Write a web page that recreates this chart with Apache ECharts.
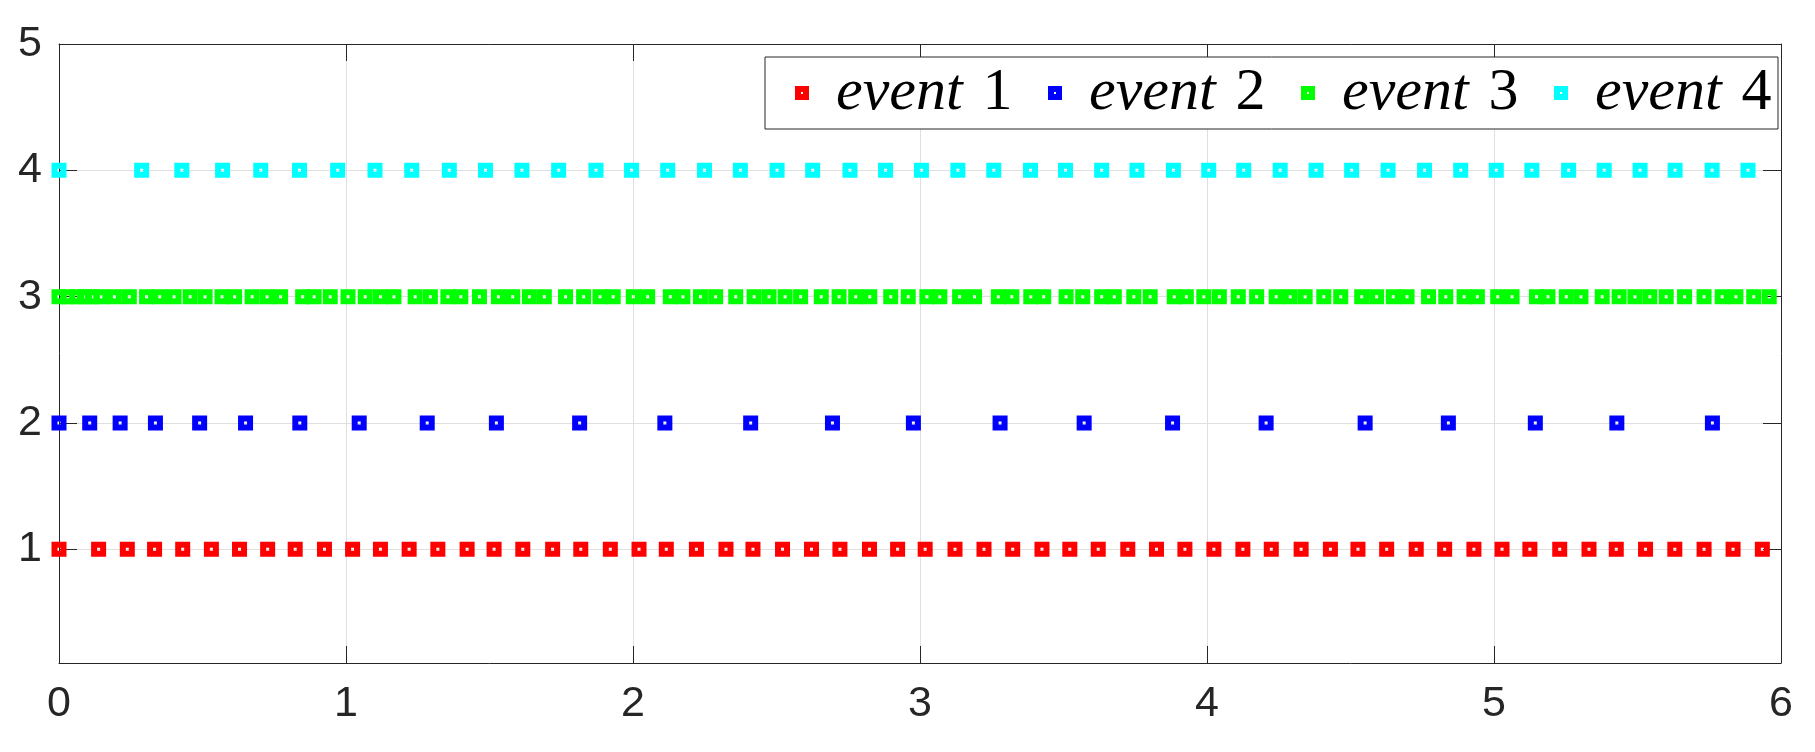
<!DOCTYPE html>
<html>
<head>
<meta charset="utf-8">
<script src="https://cdn.jsdelivr.net/npm/echarts@6/dist/echarts.min.js"></script>
<style>
html,body{margin:0;padding:0;background:#fff;}
#chart{width:1815px;height:752px;}
</style>
</head>
<body>
<div id="chart"></div>
<script>
// ---- data ----
const seriesNames = ['event 1', 'event 2', 'event 3', 'event 4'];
const seriesLevels = [1, 2, 3, 4];
const seriesColors = ['#ff0000', '#0000ff', '#00ff00', '#00ffff'];

const event1 = [0, 0.138, 0.238, 0.333, 0.431, 0.531, 0.629, 0.727, 0.823, 0.925, 1.023, 1.120, 1.220, 1.320, 1.422,
  1.516, 1.616, 1.720, 1.818, 1.921, 2.021, 2.116, 2.221, 2.324, 2.418, 2.521, 2.622, 2.721, 2.824, 2.922,
  3.018, 3.122, 3.223, 3.323, 3.425, 3.522, 3.621, 3.724, 3.824, 3.923, 4.024, 4.125, 4.224, 4.328, 4.430,
  4.526, 4.626, 4.729, 4.828, 4.930, 5.028, 5.125, 5.229, 5.331, 5.426, 5.528, 5.630, 5.732, 5.833, 5.935];

const event2 = [0, 0.107, 0.213, 0.336, 0.490, 0.650, 0.839, 1.046, 1.283, 1.524, 1.814, 2.111, 2.410, 2.695,
  2.977, 3.279, 3.572, 3.880, 4.206, 4.551, 4.841, 5.144, 5.428, 5.761];

const event3 = [0, 0.031, 0.061, 0.089, 0.116, 0.146, 0.193, 0.245, 0.305, 0.351, 0.401, 0.457, 0.509, 0.568, 0.612,
  0.673, 0.725, 0.772, 0.849, 0.889, 0.945, 1.007, 1.067, 1.120, 1.167, 1.241, 1.294, 1.355, 1.400,
  1.465, 1.531, 1.581, 1.639, 1.691, 1.765, 1.828, 1.885, 1.931, 2.001, 2.051, 2.130, 2.174, 2.235, 2.288,
  2.358, 2.422, 2.474, 2.530, 2.584, 2.656, 2.718, 2.776, 2.825, 2.898,
  2.959, 3.024, 3.069, 3.138, 3.190, 3.273, 3.320, 3.386, 3.431, 3.509, 3.567, 3.633, 3.677, 3.745, 3.802,
  3.886, 3.928, 3.989, 4.043, 4.109, 4.173, 4.241, 4.290, 4.342, 4.407,
  4.466, 4.539, 4.591, 4.649, 4.697, 4.772, 4.832, 4.896, 4.942, 5.013, 5.063, 5.148, 5.188, 5.252, 5.303,
  5.377, 5.436, 5.491, 5.543, 5.600, 5.664, 5.732, 5.795, 5.843, 5.905, 5.959];

const event4 = [0, 0.288, 0.428, 0.570, 0.703, 0.838, 0.971, 1.101, 1.229, 1.360, 1.486, 1.613, 1.741, 1.871,
  1.995, 2.121, 2.249, 2.374, 2.502, 2.626, 2.756, 2.880, 3.005, 3.132, 3.257, 3.385, 3.507, 3.633, 3.756,
  3.883, 4.006, 4.128, 4.255, 4.380, 4.504, 4.631, 4.758, 4.884, 5.008, 5.132, 5.260, 5.384, 5.509, 5.631,
  5.760, 5.885];

const xTicks = [0, 1, 2, 3, 4, 5, 6];
const yTicks = [1, 2, 3, 4, 5];

const allEvents = [event1, event2, event3, event4];

// ---- chart ----
const chart = echarts.init(document.getElementById('chart'), null, {renderer: 'canvas'});
const axisColor = '#262626';
const gridColor = '#dfdfdf';
const labelFont = 'Liberation Sans, Arial, Helvetica, sans-serif';
const legendFont = 'Liberation Serif, DejaVu Serif, serif';

const series = allEvents.map((xs, i) => ({
  name: seriesNames[i],
  type: 'scatter',
  clip: false,
  symbol: 'rect',
  symbolSize: 9,
  data: xs.map(x => [x, seriesLevels[i]]),
  itemStyle: {
    color: 'rgba(255,255,255,0)',
    borderColor: seriesColors[i],
    borderWidth: 6,
    opacity: 1
  },
  emphasis: {disabled: true},
  z: 3
}));

const option = {
  animation: false,
  backgroundColor: '#ffffff',
  grid: {left: 59, top: 44, width: 1722, height: 619, containLabel: false},
  legend: {
    data: seriesNames,
    left: 765,
    top: 57,
    orient: 'horizontal',
    selectedMode: false,
    backgroundColor: '#ffffff',
    borderColor: axisColor,
    borderWidth: 1,
    borderRadius: 0,
    padding: [6, 3, 6, 30],
    itemGap: 32,
    itemWidth: 8,
    itemHeight: 8,
    itemStyle: {borderWidth: 6, color: 'rgba(255,255,255,0)', borderColor: 'inherit'},
    formatter: function (name) {
      const parts = name.split(' ');
      return '{i|' + parts[0] + '}{n|' + parts[1] + '}';
    },
    textStyle: {
      width: 180,
      padding: [0, 0, 0, 25],
      lineHeight: 60,
      fontSize: 60,
      color: '#000',
      rich: {
        i: {fontFamily: legendFont, fontStyle: 'italic', fontSize: 60, color: '#000', lineHeight: 60},
        n: {fontFamily: legendFont, fontSize: 60, color: '#000', lineHeight: 60, padding: [0, 0, 0, 20]}
      }
    }
  },
  xAxis: [
    {
      type: 'value', position: 'bottom', min: xTicks[0], max: xTicks[xTicks.length - 1], interval: 1,
      axisLine: {show: true, onZero: false, lineStyle: {color: axisColor, width: 1}},
      axisTick: {show: true, inside: true, length: 17, lineStyle: {color: axisColor, width: 1}},
      axisLabel: {show: true, fontSize: 43, color: axisColor, fontFamily: labelFont, margin: 20},
      splitLine: {show: true, lineStyle: {color: gridColor, width: 1}}
    },
    {
      type: 'value', position: 'top', min: xTicks[0], max: xTicks[xTicks.length - 1], interval: 1,
      axisLine: {show: true, onZero: false, lineStyle: {color: axisColor, width: 1}},
      axisTick: {show: true, inside: true, length: 17, lineStyle: {color: axisColor, width: 1}},
      axisLabel: {show: false},
      splitLine: {show: false}
    }
  ],
  yAxis: [
    {
      type: 'value', position: 'left', min: 0.1, max: 5,
      axisLine: {show: true, onZero: false, lineStyle: {color: axisColor, width: 1}},
      axisTick: {show: true, inside: true, length: 18, customValues: yTicks, lineStyle: {color: axisColor, width: 1}},
      axisLabel: {show: true, customValues: yTicks, fontSize: 43, color: axisColor, fontFamily: labelFont, margin: 17},
      splitLine: {show: true, lineStyle: {color: gridColor, width: 1}}
    },
    {
      type: 'value', position: 'right', min: 0.1, max: 5,
      axisLine: {show: true, onZero: false, lineStyle: {color: axisColor, width: 1}},
      axisTick: {show: true, inside: true, length: 18, customValues: yTicks, lineStyle: {color: axisColor, width: 1}},
      axisLabel: {show: false},
      splitLine: {show: false}
    }
  ],
  series: series
};
chart.setOption(option);
</script>
</body>
</html>
